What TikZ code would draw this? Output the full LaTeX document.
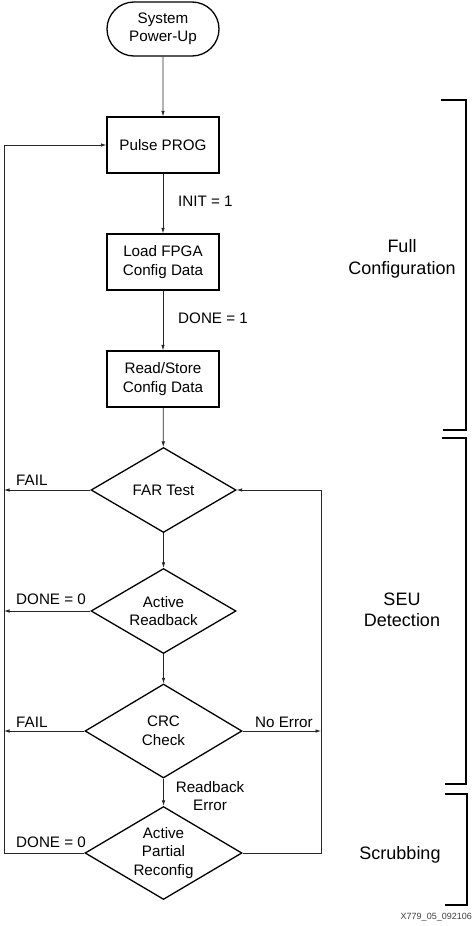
\documentclass[tikz,border=0pt]{standalone}
\usepackage{fontspec}
\setmainfont{Liberation Sans}
\usetikzlibrary{shapes.geometric,shapes.misc,arrows.meta}
\newcommand{\flowfont}{\fontsize{15.2}{18.5}\selectfont}
\newcommand{\phasefont}{\fontsize{18}{21.5}\selectfont}
\begin{document}
\begin{tikzpicture}[x=1pt,y=-1pt,
  box/.style={draw,line width=1.3pt,minimum width=112pt,minimum height=56pt,inner sep=0pt,align=center,font=\flowfont},
  term/.style={draw,line width=1.3pt,rounded rectangle,minimum width=112pt,minimum height=54pt,inner sep=0pt,align=center,font=\flowfont},
  dec/.style={draw,line width=1.3pt,diamond,inner sep=0pt,align=center,font=\flowfont},
  conn/.style={draw=black!85,line width=0.75pt,-{Latex[length=5.5pt,width=3.5pt]}},
  lbl/.style={font=\flowfont,inner sep=0pt,align=center},
  phase/.style={font=\phasefont,inner sep=0pt,align=center},
  bracket/.style={line width=2.8pt,line cap=butt,line join=miter}]
\useasboundingbox (0,0) rectangle (474,926);
% nodes
\node[term] (start) at (163,29) {System\\Power-Up};
\node[box] (prog) at (163,145) {Pulse PROG};
\node[box] (load) at (163,262) {Load FPGA\\Config Data};
\node[box] (store) at (163,379) {Read/Store\\Config Data};
\node[dec,aspect=1.7,minimum width=145pt,minimum height=85pt] (far) at (163.5,490) {FAR Test};
\node[dec,aspect=1.7,minimum width=145pt,minimum height=85pt] (arb) at (163.5,611) {Active\\Readback};
\node[dec,aspect=1.67,minimum width=157pt,minimum height=94pt] (crc) at (163.5,731) {CRC\\Check};
\node[dec,aspect=1.67,minimum width=157pt,minimum height=93pt] (apr) at (163.5,853) {Active\\Partial\\Reconfig};
\coordinate (L) at (4,145);
\coordinate (R) at (321,490);
% connectors
\draw[conn] (start) -- (prog);
\draw[conn] (prog) -- (load);
\draw[conn] (load) -- (store);
\draw[conn] (store) -- (far);
\draw[conn] (far) -- (arb);
\draw[conn] (arb) -- (crc);
\draw[conn] (crc) -- (apr);
\draw[conn] (far.west) -- (far.west -| L);
\draw[conn] (arb.west) -- (arb.west -| L);
\draw[conn] (crc.west) -- (crc.west -| L);
\draw[conn] (crc.east) -- (crc.east -| R);
\draw[conn] (apr.west) -- (apr.west -| L) |- (prog.west);
\draw[conn] (apr.east) -- (apr.east -| R) |- (far.east);
% labels
\node[lbl,anchor=west] (l1) at (178,201) {INIT = 1};
\node[lbl,anchor=west] (l2) at (178,318) {DONE = 1};
\node[lbl,anchor=west] (l3) at (16,480) {FAIL};
\node[lbl,anchor=west] (l4) at (16,599) {DONE = 0};
\node[lbl,anchor=west] (l5) at (16,722) {FAIL};
\node[lbl,anchor=west] (l6) at (255,722) {No Error};
\node[lbl] (l7) at (210,796) {Readback\\Error};
\node[lbl,anchor=west] (l8) at (16,842) {DONE = 0};
% phases
\node[phase] (p1) at (402,259) {Full\\Configuration};
\node[phase] (p2) at (402,610) {SEU\\Detection};
\node[phase] (p3) at (400,855) {Scrubbing};
\draw[bracket] (441,100) -- (466,100) -- (466,430) -- (443,430);
\draw[bracket] (442,438) -- (466,438) -- (466,784) -- (445,784);
\draw[bracket] (445,794) -- (467,794) -- (467,905) -- (445,905);
\node[font=\fontsize{9}{10}\selectfont,text=black!75,inner sep=0pt,anchor=east] (fig) at (472,917) {X779\_05\_092106};
\end{tikzpicture}
\end{document}
